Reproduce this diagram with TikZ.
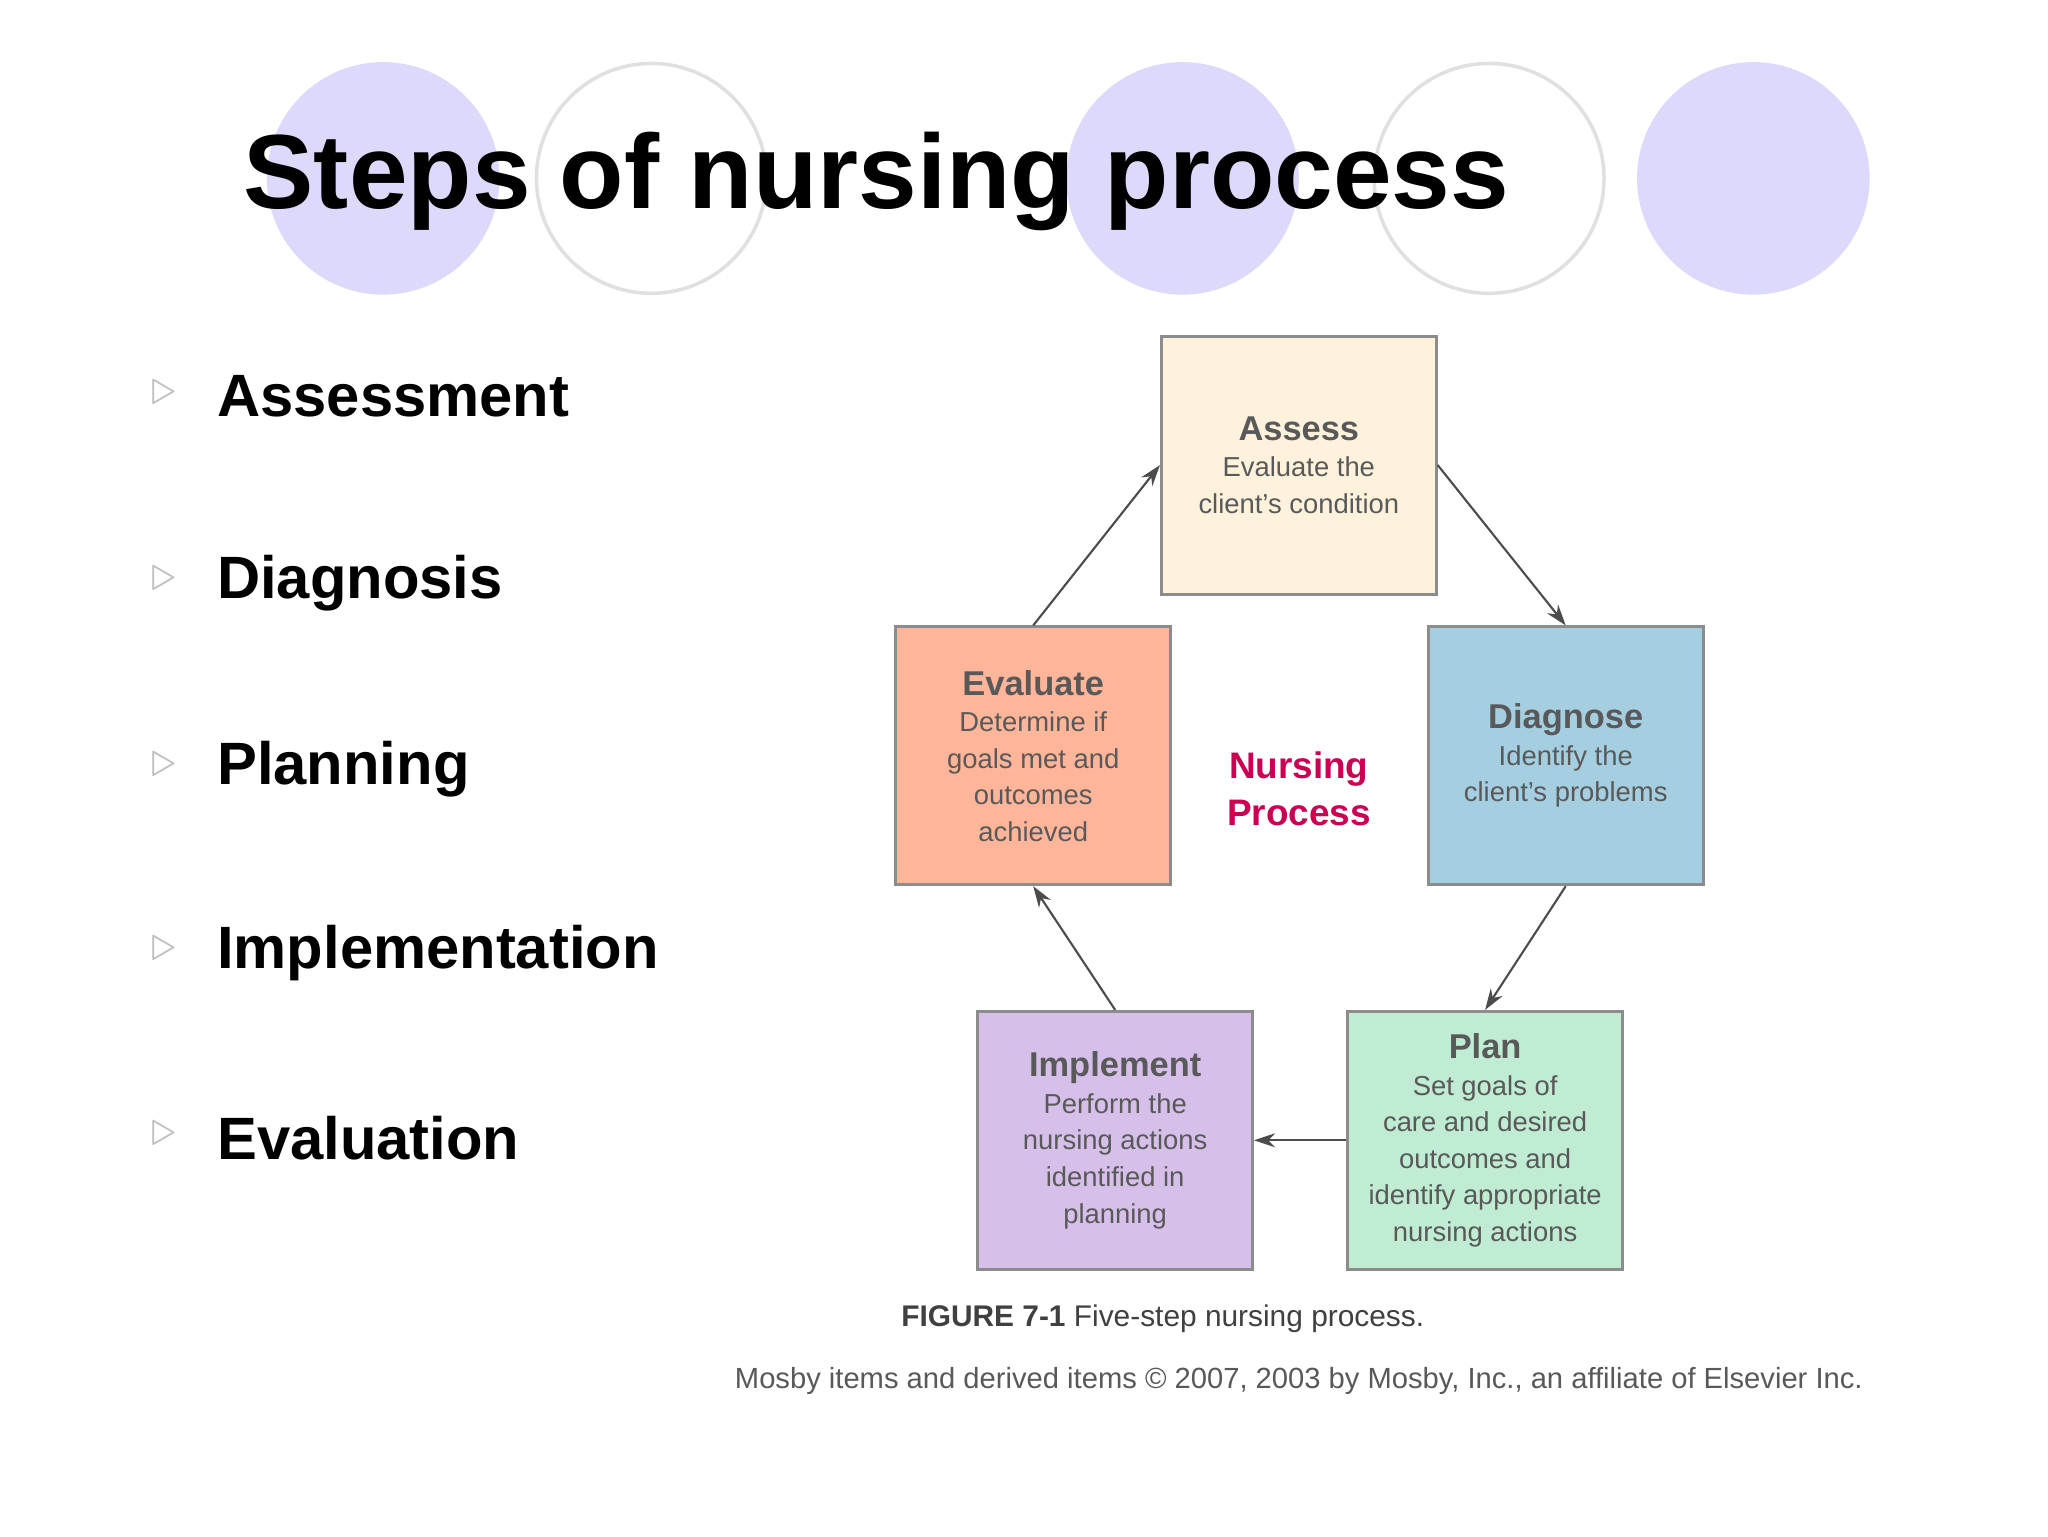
\documentclass[tikz,border=0pt]{standalone}
\usepackage{fontspec}
\setmainfont{Liberation Sans}
\usetikzlibrary{arrows.meta}
\begin{document}
\begin{tikzpicture}[x=0.01321cm,y=-0.01321cm,
  box/.style={draw=black!45,line width=0.8pt,minimum width=2.75cm,minimum height=2.58cm,align=center,inner sep=1pt,font=\fontsize{7.8}{10.4}\selectfont,text=black!65},
  fillc/.style={fill=violet!20!blue!15,draw=none},
  openc/.style={draw=black!12,line width=1pt},
  arr/.style={-{Stealth[length=6pt,width=4pt]},draw=black!70,line width=0.6pt},
  bul/.style={anchor=west,font=\fontsize{17}{20}\selectfont\bfseries},
  bmark/.style={anchor=west,text=black!25,font=\fontsize{14}{16}\selectfont}]
\useasboundingbox (0,0) rectangle (1550,1163);
\fill[white] (0,0) rectangle (1550,1163);
\path[fillc] (290,135) circle (88);
\path[openc] (493,135) circle (87);
\path[fillc] (895,135) circle (88);
\path[openc] (1127,135) circle (87);
\path[fillc] (1327,135) circle (88);
\node[anchor=west,font=\fontsize{30}{34}\selectfont\bfseries] (title) at (175,137) {Steps of nursing process};
\foreach \t/\y [count=\i] in {Assessment/300,Diagnosis/441,Planning/582,Implementation/721,Evaluation/861}{
  \node[bmark] (m\i) at (105,\y-3) {$\triangleright$};
  \node[bul] (b\i) at (155,\y) {\t};
}
\node[box,fill=yellow!25!orange!12] (as) at (983,352) {{\fontsize{9.8}{12}\selectfont\bfseries Assess}\\Evaluate the\\client's condition};
\node[box,fill=orange!55!red!40!white] (ev) at (782,572) {{\fontsize{9.8}{12}\selectfont\bfseries Evaluate}\\Determine if\\goals met and\\outcomes\\achieved};
\node[box,fill=cyan!40!teal!40!white] (di) at (1185,572) {{\fontsize{9.8}{12}\selectfont\bfseries Diagnose}\\Identify the\\client's problems};
\node[box,fill=blue!30!violet!25!white] (im) at (844,863) {{\fontsize{9.8}{12}\selectfont\bfseries Implement}\\Perform the\\nursing actions\\identified in\\planning};
\node[box,fill=green!40!teal!25!white] (pl) at (1124,863) {{\fontsize{9.8}{12}\selectfont\bfseries Plan}\\Set goals of\\care and desired\\outcomes and\\identify appropriate\\nursing actions};
\node[align=center,text=red!60!magenta!80!black,font=\fontsize{10.5}{13.5}\selectfont\bfseries] (np) at (983,597) {Nursing\\Process};
\draw[arr] (as.east) -- (di.north);
\draw[arr] (di.south) -- (pl.north);
\draw[arr] (pl.west) -- (im.east);
\draw[arr] (im.north) -- (ev.south);
\draw[arr] (ev.north) -- (as.west);
\node[text=black!75,font=\fontsize{8.5}{10}\selectfont] (cap) at (880,998) {\textbf{FIGURE 7-1} Five-step nursing process.};
\node[text=black!65,font=\fontsize{8.3}{10}\selectfont] (cr) at (983,1045) {Mosby items and derived items © 2007, 2003 by Mosby, Inc., an affiliate of Elsevier Inc.};
\end{tikzpicture}
\end{document}
